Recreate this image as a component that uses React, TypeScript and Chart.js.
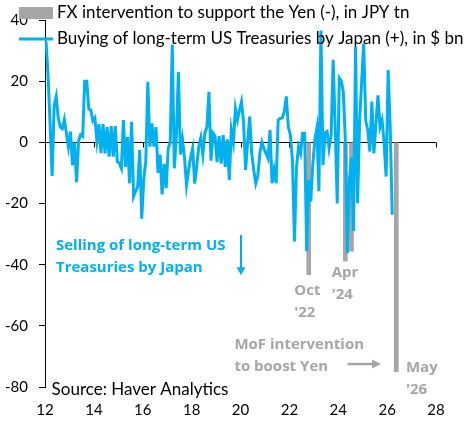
import React, { useEffect, useRef } from 'react';
import { Chart, registerables } from 'chart.js';

Chart.register(...registerables);

// Monthly data, starting January 2012
const startYear = 2012;
const treasuryBuying: number[] = [
  33, 22, 6, -11, 12, 15, 8, 5, 4.5, 7.5, 3, -1.5,
  3.5, -7.5, 0, -13, 0.5, 2.5, 2, 20, 20, 11, 10.5, 7,
  8, 0.5, 6, -3.5, 6, -3.6, 5, -4.7, 5.3, -4.7, 5.3, -6.3,
  -6.8, -8.5, 7.3, -8, 1.8, -13.4, 6.7, -17.7, -16, -14.5, -2.5, -25,
  -12, -6, 19.8, -1.4, 6.2, -1.4, 5, -10, -4, -17, -7, -15,
  -2, 0, 32, -8.5, 2, 23, -4, 1, -5, -14, -9, -5,
  -2, -13.5, -8, -1.5, 1.5, -4, 3, 5, 16.5, -6, 3, 2,
  -6.5, 2, -7, 2.4, -8, 1, -12.3, 4, 0, 11, 7.3, 10.5,
  13.3, 6.7, -9, 0, 8.4, -3.6, -9, -13.4, -11, -3.6, 0, -2,
  -3.6, -5.2, 4, -13.4, -9, -13.4, 7.3, 7.8, 8, 10, 15, 5,
  2.4, -5.8, -32.4, -8, -1.4, -3.6, 3, 3, -35.6, -12.3, -19.3, -7.4,
  0.8, 4.6, -16, 36.6, -7.4, 3, 3.5, -2, 2, 27, 5, -20,
  21, 20, 16.5, 0, -36.2, -12, -5, -29, 31.2, -19.9, 7.3, 20,
  32.3, 7, 4, -3, 13.3, -3.6, 6, 15.4, 5, 7.3, 0, -11.2,
  23.6, 5, -23.7,
];

const interventionMonths = ['2022-10', '2024-04', '2024-07', '2026-05'];
const interventionValues = [-43.3, -38.8, -35.6, -75];

const legendLabels = [
  'FX intervention to support the Yen (-), in JPY tn',
  'Buying of long-term US Treasuries by Japan (+), in $ bn',
];

const xMin = 2012;
const xMax = 2028;
const xStep = 2;
const yMin = -80;
const yMax = 40;
const yStep = 20;

const BLUE = '#00B0F0';
const GREY = '#A6A6A6';
const FONT = 'Lato, "Open Sans", sans-serif';
const BOLD_FONT = '"Open Sans", Lato, sans-serif';

const monthToYear = (s: string) => {
  const [y, m] = s.split('-').map(Number);
  return y + (m - 1 + 0.5) / 12;
};

type Note = { lines: string[]; x: number; y: number; color: string; bold: boolean; size: number; gap: number };
const notes: Note[] = [
  { lines: ['Selling of long-term US', 'Treasuries by Japan'], x: 2012.45, y: -33.9, color: BLUE, bold: true, size: 15, gap: 22 },
  { lines: ['Oct', "'22"], x: 2022.2, y: -48.5, color: GREY, bold: true, size: 15, gap: 22 },
  { lines: ['Apr', "'24"], x: 2023.73, y: -42.8, color: GREY, bold: true, size: 15, gap: 22 },
  { lines: ['MoF intervention', 'to boost Yen'], x: 2019.75, y: -66.2, color: GREY, bold: true, size: 15, gap: 22 },
  { lines: ['May', "'26"], x: 2026.77, y: -73.6, color: GREY, bold: true, size: 15, gap: 22 },
  { lines: ['Source: Haver Analytics'], x: 2012.27, y: -80.9, color: '#000', bold: false, size: 17, gap: 0 },
];

const overlayPlugin = {
  id: 'overlay',
  beforeDatasetsDraw(chart: any) {
    const { ctx, chartArea, scales } = chart;
    const x = scales.x;
    const y = scales.y;
    const y0 = Math.round(y.getPixelForValue(0)) + 0.5;
    ctx.save();
    ctx.strokeStyle = '#000';
    ctx.lineWidth = 1;
    ctx.beginPath();
    ctx.moveTo(chartArea.left, y0);
    ctx.lineTo(chartArea.right, y0);
    for (let v = xMin + xStep; v <= xMax; v += xStep) {
      const px = Math.round(x.getPixelForValue(v)) + 0.5;
      ctx.moveTo(px, y0);
      ctx.lineTo(px, y0 + 5);
    }
    ctx.stroke();
    ctx.restore();
  },
  afterDatasetsDraw(chart: any) {
    const { ctx, scales } = chart;
    const x = scales.x;
    const y = scales.y;
    ctx.save();
    // Legend
    ctx.fillStyle = GREY;
    ctx.fillRect(19, 7, 34, 12);
    ctx.strokeStyle = BLUE;
    ctx.lineWidth = 3;
    ctx.beginPath();
    ctx.moveTo(19, 39);
    ctx.lineTo(53, 39);
    ctx.stroke();
    ctx.fillStyle = '#000';
    ctx.font = `17px ${FONT}`;
    ctx.textBaseline = 'middle';
    ctx.textAlign = 'left';
    ctx.fillText(legendLabels[0], 57, 13);
    ctx.fillText(legendLabels[1], 57, 39);

    // Notes
    for (const n of notes) {
      ctx.fillStyle = n.color;
      ctx.font = n.bold ? `bold ${n.size}px ${BOLD_FONT}` : `${n.size}px ${FONT}`;
      const px = x.getPixelForValue(n.x);
      const py = y.getPixelForValue(n.y);
      n.lines.forEach((t, i) => ctx.fillText(t, px, py + i * n.gap));
    }

    // Blue down arrow
    {
      const ax = x.getPixelForValue(2020.02);
      const top = y.getPixelForValue(-30.3);
      const bot = y.getPixelForValue(-43.5);
      ctx.strokeStyle = BLUE;
      ctx.fillStyle = BLUE;
      ctx.lineWidth = 2;
      ctx.beginPath();
      ctx.moveTo(ax, top);
      ctx.lineTo(ax, bot - 7);
      ctx.stroke();
      ctx.beginPath();
      ctx.moveTo(ax - 4.5, bot - 8);
      ctx.lineTo(ax + 4.5, bot - 8);
      ctx.lineTo(ax, bot);
      ctx.closePath();
      ctx.fill();
    }
    // Grey right arrow
    {
      const ay = y.getPixelForValue(-72.5);
      const l = x.getPixelForValue(2024.38);
      const r = x.getPixelForValue(2025.75);
      ctx.strokeStyle = GREY;
      ctx.fillStyle = GREY;
      ctx.lineWidth = 2.5;
      ctx.beginPath();
      ctx.moveTo(l, ay);
      ctx.lineTo(r - 8, ay);
      ctx.stroke();
      ctx.beginPath();
      ctx.moveTo(r - 9, ay - 4.5);
      ctx.lineTo(r - 9, ay + 4.5);
      ctx.lineTo(r, ay);
      ctx.closePath();
      ctx.fill();
    }
    ctx.restore();
  },
};

export default function App() {
  const canvasRef = useRef<HTMLCanvasElement | null>(null);

  useEffect(() => {
    if (!canvasRef.current) return;
    const lineData = treasuryBuying.map((v, i) => ({ x: startYear + (i + 0.5) / 12, y: v }));
    const barData = interventionMonths.map((m, i) => ({ x: monthToYear(m), y: interventionValues[i] }));

    const chart = new Chart(canvasRef.current, {
      type: 'line',
      data: {
        datasets: [
          {
            type: 'bar',
            label: legendLabels[0],
            data: barData,
            backgroundColor: GREY,
            borderWidth: 0,
            barThickness: 4,
            order: 2,
          } as any,
          {
            type: 'line',
            label: legendLabels[1],
            data: lineData,
            borderColor: BLUE,
            borderWidth: 3,
            pointRadius: 0,
            tension: 0,
            fill: false,
            order: 1,
          },
        ],
      },
      options: {
        animation: false,
        responsive: true,
        maintainAspectRatio: false,
        layout: { padding: { top: 20, right: 30, left: 0, bottom: 0 } },
        plugins: { legend: { display: false }, tooltip: { enabled: false } },
        scales: {
          x: {
            type: 'linear',
            min: xMin,
            max: xMax,
            offset: false,
            afterFit: (s: any) => { s.height = 39; },
            afterBuildTicks: (s: any) => {
              const t = [];
              for (let v = xMin; v <= xMax; v += xStep) t.push({ value: v });
              s.ticks = t;
            },
            ticks: {
              color: '#000',
              font: { family: FONT, size: 15 },
              padding: 14,
              maxRotation: 0,
              autoSkip: false,
              callback: (v: any) => String(Number(v) % 100),
            },
            grid: { display: false, drawTicks: false, offset: false },
            border: { display: false },
          },
          y: {
            min: yMin,
            max: yMax,
            afterFit: (s: any) => { s.width = 45; },
            ticks: {
              stepSize: yStep,
              color: '#000',
              font: { family: FONT, size: 15 },
              padding: 11,
            },
            grid: { drawOnChartArea: false, drawTicks: true, tickLength: 6, color: '#000', tickColor: '#000' },
            border: { display: true, color: '#000', width: 1 },
          },
        },
      },
      plugins: [overlayPlugin],
    });
    return () => chart.destroy();
  }, []);

  return (
    <div style={{ position: 'fixed', left: 0, top: 0, width: 466, height: 426, background: '#fff' }}>
      <canvas ref={canvasRef} />
    </div>
  );
}
